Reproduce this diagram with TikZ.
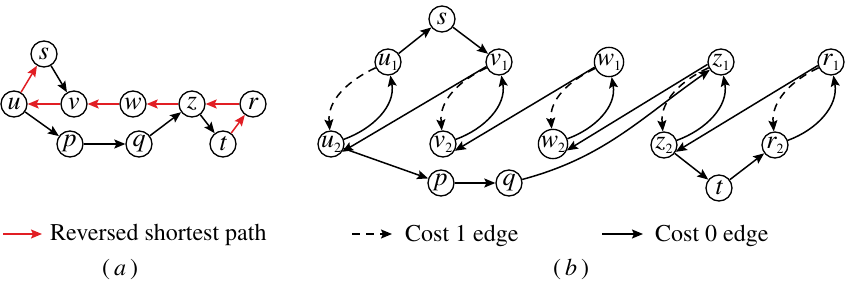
\documentclass[tikz,border=0pt]{standalone}
\usepackage[T1]{fontenc}
\usepackage{mathptmx}
\usepackage{xcolor}
\usepackage{tikz}
\usetikzlibrary{arrows.meta, positioning}

\definecolor{revred}{RGB}{225,30,36}
\newcommand{\vsub}[2]{#1\raisebox{-5pt}{\fontsize{14}{14}\selectfont\upshape #2}}

\begin{document}
\begin{tikzpicture}[
    x=1pt, y=-1pt,
    on grid,
    vertex/.style={circle, draw, line width=1.3pt, minimum size=26pt, inner sep=0pt, font=\fontsize{26}{26}\selectfont\itshape},
    arrow/.style={line width=1.5pt, -{Stealth[length=11pt, width=9pt, inset=2pt]}},
    dasharrow/.style={arrow, dash pattern=on 8pt off 6pt},
    redarrow/.style={arrow, revred},
    legend/.style={font=\fontsize{24}{28}\selectfont, inner sep=0pt, anchor=base west},
    caption/.style={font=\fontsize{24}{28}\selectfont, inner sep=0pt, anchor=base}
]
\useasboundingbox (0,0) rectangle (846,288);

% (a) Original graph
\node [vertex] (s) at (44,54) {s};
\node [vertex, below left=50pt and 30pt of s] (u) {u};
\node [vertex, right=60pt of u] (v) {v};
\node [vertex, right=59pt of v] (w) {w};
\node [vertex, right=59pt of w] (z) {z};
\node [vertex, right=61pt of z] (r) {r};
\node [vertex, below right=40pt and 56pt of u] (p) {p};
\node [vertex, right=69pt of p] (q) {q};
\node [vertex, below right=40pt and 31pt of z] (t) {t};

\draw [redarrow] (u) -- (s);
\draw [arrow] (s) -- (v);
\draw [redarrow] (v) -- (u);
\draw [redarrow] (w) -- (v);
\draw [redarrow] (z) -- (w);
\draw [redarrow] (r) -- (z);
\draw [arrow] (u) -- (p);
\draw [arrow] (p) -- (q);
\draw [arrow] (q) -- (z);
\draw [arrow] (z) -- (t);
\draw [redarrow] (t) -- (r);

% (b) Split graph
\node [vertex] (bs) at (442,19) {s};
\node [vertex, below left=43pt and 54pt of bs] (u1) {\vsub{u}{1}};
\node [vertex, right=111pt of u1] (v1) {\vsub{v}{1}};
\node [vertex, right=110pt of v1] (w1) {\vsub{w}{1}};
\node [vertex, right=112pt of w1] (z1) {\vsub{z}{1}};
\node [vertex, right=110pt of z1] (r1) {\vsub{r}{1}};
\node [vertex, below left=82pt and 57pt of u1] (u2) {\vsub{u}{2}};
\node [vertex, below left=82pt and 56pt of v1] (v2) {\vsub{v}{2}};
\node [vertex, below left=82pt and 56pt of w1] (w2) {\vsub{w}{2}};
\node [vertex, below left=83pt and 57pt of z1] (z2) {\vsub{z}{2}};
\node [vertex, below left=83pt and 56pt of r1] (r2) {\vsub{r}{2}};
\node [vertex, below right=39pt and 110pt of u2] (bp) {p};
\node [vertex, right=68pt of bp] (bq) {q};
\node [vertex, below right=43pt and 55pt of z2] (bt) {t};

\draw [arrow] (u1) -- (bs);
\draw [arrow] (bs) -- (v1);

\draw [dasharrow] (u1) to[out=205, in=95] (u2);
\draw [arrow] (u2) to[out=20, in=-80] (u1);
\draw [dasharrow] (v1) to[out=205, in=95] (v2);
\draw [arrow] (v2) to[out=20, in=-80] (v1);
\draw [dasharrow] (w1) to[out=205, in=95] (w2);
\draw [arrow] (w2) to[out=20, in=-80] (w1);
\draw [dasharrow] (z1) to[out=205, in=95] (z2);
\draw [arrow] (z2) to[out=20, in=-80] (z1);
\draw [dasharrow] (r1) to[out=205, in=95] (r2);
\draw [arrow] (r2) to[out=20, in=-80] (r1);

\draw [arrow] (v1.200) -- (u2.-35);
\draw [arrow] (w1.200) -- (v2.-30);
\draw [arrow] (z1.190) -- (w2.-25);
\draw [arrow] (r1.195) -- (z2.-30);

\draw [arrow] (u2) -- (bp);
\draw [arrow] (bp) -- (bq);
\draw [arrow] (bq) to[out=15, in=215] (z1);
\draw [arrow] (z2) -- (bt);
\draw [arrow] (bt) -- (r2);

% Legend
\coordinate (revtail) at (3,234);
\coordinate (revhead) at (42,234);
\draw [redarrow] (revtail) -- (revhead);
\node [legend] (revtext) at (50,241) {Reversed shortest path};

\coordinate (onetail) at (352,234);
\coordinate (onehead) at (392,234);
\draw [dasharrow] (onetail) -- (onehead);
\node [legend] (onetext) at (405,242) {Cost 1 edge};

\coordinate (zerotail) at (602,234);
\coordinate (zerohead) at (643,234);
\draw [arrow] (zerotail) -- (zerohead);
\node [legend] (zerotext) at (655,242) {Cost 0 edge};

\node [caption] (capa) at (120,276) {(\,\textit{a}\,)};
\node [caption] (capb) at (571,276) {(\,\textit{b}\,)};

\end{tikzpicture}
\end{document}
